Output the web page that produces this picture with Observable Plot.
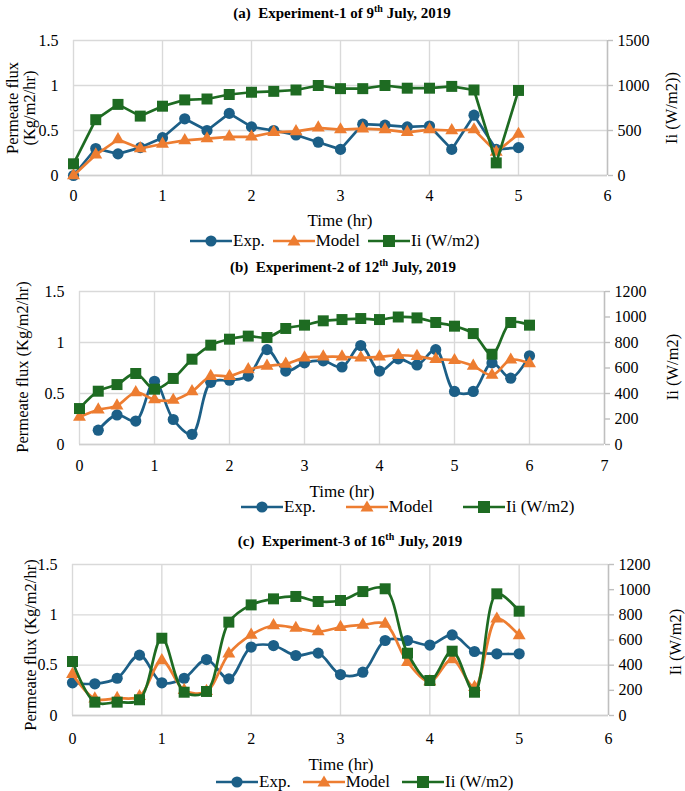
<!DOCTYPE html>
<html>
<head>
<meta charset="utf-8">
<script src="https://cdn.jsdelivr.net/npm/d3@7"></script>
<script src="https://cdn.jsdelivr.net/npm/@observablehq/plot@0.6"></script>
<style>
  html, body { margin: 0; padding: 0; background: #fff; }
  #root { position: relative; width: 685px; height: 791px; font-family: "Liberation Serif", "Times New Roman", serif; color: #000; overflow: hidden; }
  .abs { position: absolute; white-space: nowrap; }
  .title { font-weight: bold; font-size: 15px; transform: translate(-50%, -50%); }
  .title sup { font-size: 10px; }
  .xlab { font-size: 17px; transform: translate(-50%, -50%); }
  .rot { font-size: 16.5px; transform: translate(-50%, -50%) rotate(-90deg); text-align: center; line-height: 17px; }
  .legend { display: flex; align-items: center; font-size: 17px; transform: translateY(-50%); }
  .legend .item { display: flex; align-items: center; }
  .legend svg { display: block; margin-right: 1px; }
</style>
</head>
<body>
<div id="root"></div>
<script>
// ---------- data ----------
const timeA = [0,0.25,0.5,0.75,1,1.25,1.5,1.75,2,2.25,2.5,2.75,3,3.25,3.5,3.75,4,4.25,4.5,4.75,5];
const expA   = [0,0.30,0.24,0.31,0.42,0.63,0.50,0.69,0.54,0.50,0.45,0.37,0.29,0.57,0.56,0.54,0.55,0.29,0.67,0.29,0.31];
const modelA = [0,0.23,0.40,0.30,0.35,0.39,0.41,0.43,0.43,0.48,0.49,0.53,0.51,0.52,0.51,0.48,0.51,0.50,0.51,0.26,0.46];
const iiA    = [130,620,790,660,770,840,850,900,925,935,950,1000,965,965,1000,970,970,990,950,140,945];

const timeB = [0,0.25,0.5,0.75,1,1.25,1.5,1.75,2,2.25,2.5,2.75,3,3.25,3.5,3.75,4,4.25,4.5,4.75,5,5.25,5.5,5.75,6];
const expB   = [null,0.14,0.29,0.23,0.62,0.245,0.10,0.61,0.63,0.67,0.93,0.72,0.80,0.82,0.76,0.97,0.72,0.84,0.78,0.93,0.52,0.52,0.80,0.65,0.87];
const modelB = [0.27,0.34,0.38,0.51,0.44,0.435,0.52,0.67,0.67,0.735,0.77,0.79,0.85,0.86,0.86,0.85,0.86,0.875,0.865,0.835,0.825,0.77,0.68,0.83,0.795];
const iiB    = [282,418,470,557,434,518,669,779,826,850,839,910,936,970,980,988,980,1000,993,957,928,870,708,957,936];

const timeC = [0,0.25,0.5,0.75,1,1.25,1.5,1.75,2,2.25,2.5,2.75,3,3.25,3.5,3.75,4,4.25,4.5,4.75,5];
const expC   = [0.325,0.315,0.37,0.60,0.325,0.37,0.556,0.364,0.68,0.695,0.596,0.62,0.407,0.43,0.745,0.745,0.70,0.80,0.636,0.613,0.613];
const modelC = [0.41,0.166,0.172,0.19,0.546,0.25,0.24,0.613,0.80,0.894,0.868,0.834,0.877,0.90,0.91,0.53,0.338,0.556,0.28,0.96,0.795];
const iiC    = [429,106,106,125,614,185,191,742,879,927,946,906,914,985,1007,495,278,511,185,967,829];

const fluxTicks = [0, 0.5, 1, 1.5];
const iiTicksA = [0, 500, 1000, 1500];
const iiTicksBC = [0, 200, 400, 600, 800, 1000, 1200];
const seriesNames = ["Exp.", "Model", "Ii (W/m2)"];

// ---------- styling ----------
const C_EXP = "#1c5f87", C_MOD = "#ed7d31", C_II = "#1e6b22";
const GRID = "#d9d9d9";
const root = document.getElementById("root");

function addDiv(cls, left, top, html) {
  const d = document.createElement("div");
  d.className = "abs " + cls;
  d.style.left = left + "px"; d.style.top = top + "px";
  d.innerHTML = html;
  root.appendChild(d);
  return d;
}

function panel(cfg) {
  const rows = cfg.time.map((t, i) => ({t, exp: cfg.exp[i], model: cfg.model[i], ii: cfg.ii[i]}));
  const k = cfg.iiMax / 1.5;  // right-axis units per left-axis unit
  const xt = d3.range(0, cfg.xMax + 1);
  const curve = cfg.curve;
  const chart = Plot.plot({
    width: 685, height: cfg.height,
    marginLeft: cfg.mL, marginRight: cfg.mR, marginTop: cfg.mT, marginBottom: cfg.mB,
    style: {background: "transparent", fontSize: "16px", fontFamily: "'Liberation Serif', 'Times New Roman', serif", overflow: "visible"},
    x: {domain: [0, cfg.xMax]},
    y: {domain: [0, 1.5]},
    marks: [
      Plot.gridX(xt, {stroke: GRID, strokeOpacity: 1, strokeWidth: 1.4}),
      Plot.gridY(fluxTicks, {stroke: GRID, strokeOpacity: 1, strokeWidth: 1.4}),
      Plot.ruleX([cfg.xMax], {stroke: "#bfbfbf", strokeWidth: 1.4}),
      Plot.ruleY([0], {stroke: "#cfcfcf", strokeWidth: 1.6}),
      Plot.axisX(xt, {tickSize: 0, tickPadding: cfg.xPad, label: null, tickFormat: d => String(d)}),
      Plot.axisY(fluxTicks, {tickSize: 0, tickPadding: 15, label: null, tickFormat: d => String(d)}),
      Plot.axisY(cfg.iiTicks.map(v => v / k), {anchor: "right", tickSize: 5, tickPadding: 5, stroke: "#bfbfbf", strokeWidth: 1.4, label: null, tickFormat: d => String(Math.round(d * k))}),
      Plot.line(rows.filter(d => d.exp != null), {x: "t", y: "exp", stroke: C_EXP, strokeWidth: 2.7, curve}),
      Plot.dot(rows, {x: "t", y: "exp", fill: C_EXP, r: 5.6, symbol: "circle"}),
      Plot.line(rows, {x: "t", y: "model", stroke: C_MOD, strokeWidth: 2.7, curve}),
      Plot.dot(rows, {x: "t", y: "model", fill: C_MOD, r: 4.8, symbol: "triangle"}),
      Plot.line(rows, {x: "t", y: d => d.ii / k, stroke: C_II, strokeWidth: 2.7, curve}),
      Plot.dot(rows, {x: "t", y: d => d.ii / k, fill: C_II, r: 6.2, symbol: "square"})
    ]
  });
  chart.style.position = "absolute";
  chart.style.left = "0px";
  chart.style.top = cfg.top + "px";
  root.appendChild(chart);

  addDiv("title", cfg.titleX, cfg.titleY, cfg.title);
  addDiv("xlab", cfg.xlabX, cfg.xlabY, "Time (hr)");
  addDiv("rot", cfg.ylabX, cfg.ylabY, cfg.ylab);
  addDiv("rot", cfg.y2labX, cfg.y2labY, cfg.y2lab);

  // legend
  const syms = [
    `<circle cx="21" cy="8" r="5.6" fill="${C_EXP}"/>`,
    `<path d="M21,1.5 L27.5,12.5 L14.5,12.5 Z" fill="${C_MOD}"/>`,
    `<rect x="15" y="2" width="12" height="12" fill="${C_II}"/>`
  ];
  const cols = [C_EXP, C_MOD, C_II];
  const lg = addDiv("legend", cfg.legX, cfg.legY, "");
  seriesNames.forEach((name, i) => {
    const it = document.createElement("div");
    it.className = "item";
    if (i < 2) it.style.marginRight = cfg.legGap + "px";
    it.innerHTML = `<svg width="42" height="16"><line x1="0" y1="8" x2="42" y2="8" stroke="${cols[i]}" stroke-width="2.7"/>${syms[i]}</svg><span>${name}</span>`;
    lg.appendChild(it);
  });
}

panel({
  time: timeA, exp: expA, model: modelA, ii: iiA, xMax: 6, iiMax: 1500, iiTicks: iiTicksA,
  curve: "linear",
  top: 30, height: 180, mL: 73, mR: 78, mT: 10, mB: 35, xPad: 14,
  title: "(a)&nbsp;&nbsp;Experiment-1 of 9<sup>th</sup> July, 2019", titleX: 342, titleY: 12,
  xlabX: 340, xlabY: 221,
  ylab: "Permeate flux<br>(Kg/m2/hr)", ylabX: 21, ylabY: 108,
  y2lab: "Ii (W/m2))", y2labX: 671, y2labY: 108,
  legX: 190, legY: 241, legGap: 8
});

panel({
  time: timeB, exp: expB, model: modelB, ii: iiB, xMax: 7, iiMax: 1200, iiTicks: iiTicksBC,
  curve: "catmull-rom",
  top: 280, height: 200, mL: 79, mR: 81, mT: 11, mB: 36, xPad: 15,
  title: "(b)&nbsp;&nbsp;Experiment-2 of 12<sup>th</sup> July, 2019", titleX: 343, titleY: 266,
  xlabX: 342, xlabY: 492,
  ylab: "Permeate flux (Kg/m2/hr)", ylabX: 22, ylabY: 367,
  y2lab: "Ii (W/m2)", y2labX: 672, y2labY: 367,
  legX: 241, legY: 507, legGap: 30
});

panel({
  time: timeC, exp: expC, model: modelC, ii: iiC, xMax: 6, iiMax: 1200, iiTicks: iiTicksBC,
  curve: "catmull-rom",
  top: 553, height: 199, mL: 72, mR: 77, mT: 11, mB: 37, xPad: 17,
  title: "(c)&nbsp;&nbsp;Experiment-3 of 16<sup>th</sup> July, 2019", titleX: 350, titleY: 540,
  xlabX: 341, xlabY: 765,
  ylab: "Permeate flux (Kg/m2/hr)", ylabX: 30, ylabY: 645,
  y2lab: "Ii (W/m2)", y2labX: 675, y2labY: 642,
  legX: 216, legY: 782, legGap: 12
});
</script>
</body>
</html>
